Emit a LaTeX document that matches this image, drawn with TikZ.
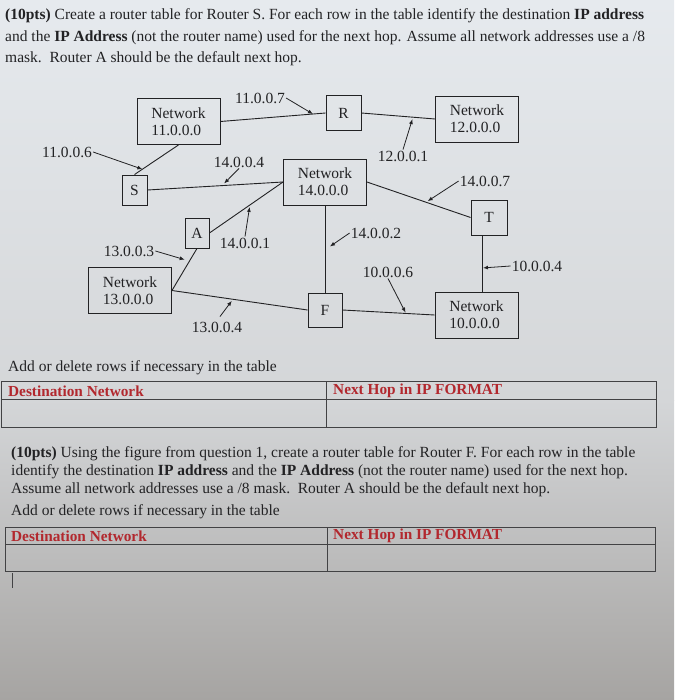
\documentclass[tikz,border=0pt]{standalone}
\usepackage{fontspec}
\setmainfont{Liberation Serif}
\usepackage{tikz}
\usetikzlibrary{arrows.meta}
\definecolor{pagetop}{RGB}{230,234,238}
\definecolor{pagemid}{RGB}{212,214,216}
\definecolor{pagelow}{RGB}{166,164,162}
\definecolor{inkgray}{RGB}{34,34,36}
\definecolor{hdrred}{RGB}{178,40,46}
\definecolor{rulegray}{RGB}{66,66,68}

\begin{document}
\begin{tikzpicture}[x=1pt, y=-1pt, inkgray,
  qtext/.style={anchor=base west, inner sep=0pt, font=\fontsize{15.5}{17}\selectfont},
  netbox/.style={draw, line width=0.9pt, minimum width=83pt, minimum height=46pt, align=left, inner sep=2pt, font=\fontsize{15.5}{17}\selectfont},
  router/.style={draw, line width=0.9pt, minimum width=#1, minimum height=#1, inner sep=0pt, font=\fontsize{15.5}{17}\selectfont},
  link/.style={line width=0.9pt},
  iplabel/.style={inner sep=1pt, font=\fontsize{15.5}{17}\selectfont},
  iparrow/.style={-{Latex[length=5pt,width=4pt]}, line width=0.8pt},
  hdr/.style={anchor=west, inner sep=0pt, text=hdrred, font=\fontsize{15.3}{17}\selectfont\bfseries}]
  % page background
  \shade[top color=pagetop, bottom color=pagemid] (0,0) rectangle (674,400);
  \shade[top color=pagemid, bottom color=pagelow] (0,400) rectangle (674,700);
  \useasboundingbox (0,0) rectangle (674,700);

  % question 1
  \node[qtext] (q1a) at (5,20) {\textbf{(10pts)} Create a router table for Router S. For each row in the table identify the destination \textbf{IP address}};
  \node[qtext] (q1b) at (5,42) {and the \textbf{IP Address} (not the router name) used for the next hop. Assume all network addresses use a /8};
  \node[qtext] (q1c) at (5,63) {mask.\ \ Router A should be the default next hop.};

  % networks and routers
  \node[netbox] (net11) at (178.5,121.5) {Network\\11.0.0.0};
  \node[netbox] (net12) at (477,119) {Network\\12.0.0.0};
  \node[netbox] (net14) at (325,182) {Network\\14.0.0.0};
  \node[netbox] (net13) at (130,290.5) {Network\\13.0.0.0};
  \node[netbox] (net10) at (476.5,315) {Network\\10.0.0.0};
  \node[router=35pt] (R) at (343.5,113) {R};
  \node[router=30pt, minimum width=25pt] (S) at (134.5,190) {S};
  \node[router=35pt, minimum width=36pt] (T) at (489,217.5) {T};
  \node[router=30pt, minimum width=24pt] (A) at (197,233) {A};
  \node[router=34pt] (F) at (325,310) {F};

  % links
  \draw[link] (net11.east) -- coordinate[pos=.88] (tipR11) (R.west);
  \draw[link] (R.east) -- coordinate[pos=.70] (tipR12) (net12.west);
  \draw[link] (net11.south) -- coordinate[pos=.82] (tipS11) (S.north);
  \draw[link] (S.east) -- coordinate[pos=.55] (tipS14) (net14.west);
  \draw[link] (A.east) -- coordinate[pos=.55] (tipA14) (net14.west);
  \draw[link] (net14.east) -- coordinate[pos=.57] (tipT14) (T.west);
  \draw[link] (net14.south) -- coordinate[pos=.51] (tipF14) (F.north);
  \draw[link] (A.south) -- coordinate[pos=.30] (tipA13) (net13.east);
  \draw[link] (net13.east) -- coordinate[pos=.45] (tipF13) (F.west);
  \draw[link] (F.east) -- coordinate[pos=.69] (tipF10) (net10.west);
  \draw[link] ([xshift=-7pt]T.south) -- coordinate[pos=.58] (tipT10) ([xshift=-7pt]T.south |- net10.north);

  % interface addresses
  \node[iplabel] (ipR11) at (260,98) {11.0.0.7};
  \node[iplabel] (ipR12) at (403,156) {12.0.0.1};
  \node[iplabel] (ipS11) at (67,152) {11.0.0.6};
  \node[iplabel] (ipS14) at (239,162) {14.0.0.4};
  \node[iplabel] (ipT14) at (485,181) {14.0.0.7};
  \node[iplabel] (ipA14) at (245,243) {14.0.0.1};
  \node[iplabel] (ipF14) at (376,233) {14.0.0.2};
  \node[iplabel] (ipA13) at (129,251) {13.0.0.3};
  \node[iplabel] (ipF10) at (388,272) {10.0.0.6};
  \node[iplabel] (ipT10) at (537,266) {10.0.0.4};
  \node[iplabel] (ipF13) at (217,327) {13.0.0.4};
  \draw[iparrow] (ipR11.east) -- (tipR11);
  \draw[iparrow, shorten >=2pt] (ipR12.north) -- (tipR12);
  \draw[iparrow] (ipS11.east) -- (tipS11);
  \draw[iparrow, shorten >=3pt] (ipS14.south) -- (tipS14);
  \draw[iparrow, shorten >=2pt] (ipT14.west) -- (tipT14);
  \draw[iparrow, shorten >=2pt] (ipA14.north) -- (tipA14);
  \draw[iparrow, shorten >=6pt] (ipF14.west) -- (tipF14);
  \draw[iparrow, shorten >=5pt] (ipA13.east) -- (tipA13);
  \draw[iparrow, shorten >=1pt] (ipF10.south) -- (tipF10);
  \draw[iparrow, shorten >=1pt] (ipT10.west) -- (tipT10);
  \draw[iparrow, shorten >=2pt, shorten <=5pt] (ipF13.north) -- (tipF13);

  % table for router S
  \node[qtext] (add1) at (8,371) {Add or delete rows if necessary in the table};
  \draw[rulegray, line width=0.9pt] (1,381) rectangle (656,427) (1,399) -- (656,399) (326,381) -- (326,427);
  \node[hdr] (dest1) at (8,391) {Destination Network};
  \node[hdr] (hop1) at (333,391) {Next Hop in IP FORMAT};

  % question 2
  \node[qtext] (q2a) at (11,457) {\textbf{(10pts)} Using the figure from question 1, create a router table for Router F. For each row in the table};
  \node[qtext] (q2b) at (11,475) {identify the destination \textbf{IP address} and the \textbf{IP Address} (not the router name) used for the next hop.};
  \node[qtext] (q2c) at (11,493) {Assume all network addresses use a /8 mask.\ \ Router A should be the default next hop.};
  \node[qtext] (add2) at (11,515) {Add or delete rows if necessary in the table};
  \draw[rulegray, line width=0.9pt] (5,527) rectangle (655,571) (5,544) -- (655,544) (327,527) -- (327,571);
  \node[hdr] (dest2) at (11,536) {Destination Network};
  \node[hdr] (hop2) at (333,536) {Next Hop in IP FORMAT};
  \draw[rulegray, line width=1pt] (12,573) -- (12,588);
\end{tikzpicture}
\end{document}
